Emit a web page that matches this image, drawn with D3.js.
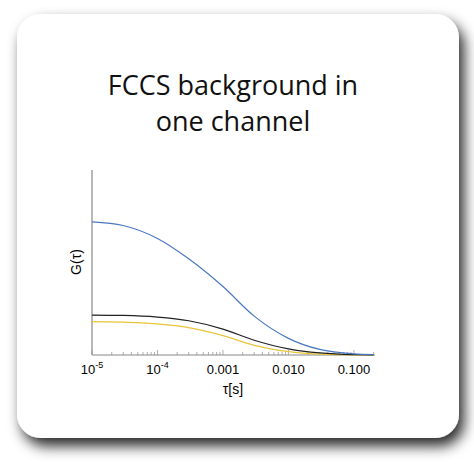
<!DOCTYPE html><html><head><meta charset="utf-8">
<script src="https://cdn.jsdelivr.net/npm/d3@7"></script>
<style>body{margin:0;background:#fff}</style></head><body>
<svg id="c" width="474" height="474"></svg>
<script>
const tau = [1e-5, 3e-5, 1e-4, 3e-4, 1e-3, 3e-3, 1e-2, 3e-2, 1e-1, 0.2];
const blue = [0.72, 0.70, 0.63, 0.52, 0.37, 0.21, 0.09, 0.03, 0.006, 0.002];
const black = [0.216, 0.214, 0.205, 0.185, 0.14, 0.08, 0.033, 0.011, 0.002, 0.001];
const yellow = [0.18, 0.178, 0.168, 0.148, 0.105, 0.052, 0.018, 0.005, 0.001, 0.0005];
const xTicks = [1e-5, 1e-4, 1e-3, 1e-2, 1e-1];
const xTickLabels = ["10^-5", "10^-4", "0.001", "0.010", "0.100"];

const svg = d3.select("#c");
const defs = svg.append("defs");
const f = defs.append("filter").attr("id","sh").attr("x","-20%").attr("y","-20%").attr("width","140%").attr("height","140%");
f.append("feDropShadow").attr("dx",5).attr("dy",8).attr("stdDeviation",7).attr("flood-color","#000").attr("flood-opacity",0.85);
svg.append("rect").attr("x",17).attr("y",14).attr("width",442).attr("height",424).attr("rx",24).attr("fill","#fff").attr("filter","url(#sh)");

svg.append("text").attr("x",233).attr("y",95).attr("text-anchor","middle").attr("font-family","Open Sans, sans-serif").attr("font-size",27).attr("fill","#111").text("FCCS background in");
svg.append("text").attr("x",233).attr("y",131).attr("text-anchor","middle").attr("font-family","Open Sans, sans-serif").attr("font-size",27).attr("fill","#111").text("one channel");

const x = d3.scaleLog().domain([1e-5, 0.21]).range([92, 375]);
const y = d3.scaleLinear().domain([0, 1]).range([355, 170]);
const g = svg.append("g");
g.append("line").attr("x1",92).attr("x2",92).attr("y1",y(1)).attr("y2",y(0)).attr("stroke","#888").attr("stroke-width",1.2);
g.append("line").attr("x1",92).attr("x2",375).attr("y1",y(0)).attr("y2",y(0)).attr("stroke","#888").attr("stroke-width",1.2);
const minor = [];
for (let e=-5; e<=-1; e++) for (let m=1; m<10; m++) { const v=m*Math.pow(10,e); if (v<=0.21) minor.push(v); }
g.selectAll(".mt").data(minor).join("line").attr("x1",d=>x(d)).attr("x2",d=>x(d))
 .attr("y1",y(0)).attr("y2",d=>xTicks.includes(d)? y(0)-5 : y(0)-3).attr("stroke","#999").attr("stroke-width",0.8);
const lab = g.selectAll(".tl").data(xTicks).join("text").attr("x",d=>x(d)).attr("y",374).attr("text-anchor","middle")
 .attr("font-family","Liberation Sans, Arial, sans-serif").attr("font-size",13);
lab.each(function(d,i){
  const s=xTickLabels[i], t=d3.select(this);
  if (s.startsWith("10^")) { t.append("tspan").text("10"); t.append("tspan").attr("dy",-6).attr("font-size",9).text(s.slice(3)); }
  else t.text(s);
});
svg.append("text").attr("x",233).attr("y",394).attr("text-anchor","middle").attr("font-family","Liberation Sans, Arial, sans-serif").attr("font-size",14).text("τ[s]");
svg.append("text").attr("transform","translate(81,262) rotate(-90)").attr("text-anchor","middle").attr("font-family","Liberation Sans, Arial, sans-serif").attr("font-size",14).text("G(τ)");

const line = vals => d3.line().x((d,i)=>x(tau[i])).y(d=>y(d)).curve(d3.curveMonotoneX)(vals);
[[yellow,"#e8c53a"],[black,"#222"],[blue,"#4a78c0"]].forEach(([v,c])=>{
  g.append("path").attr("d",line(v)).attr("fill","none").attr("stroke",c).attr("stroke-width",1.2);
});
</script></body></html>
